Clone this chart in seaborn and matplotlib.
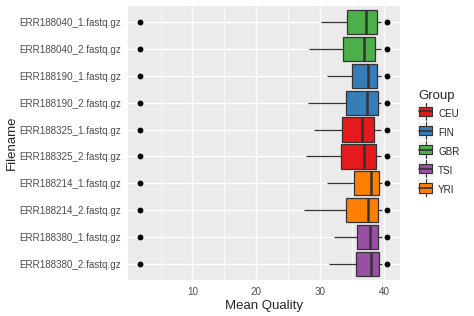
import matplotlib
matplotlib.use("Agg")
import matplotlib.pyplot as plt
import numpy as np
import seaborn as sns
import pandas as pd
from matplotlib.patches import Rectangle
from matplotlib.lines import Line2D
from matplotlib.legend_handler import HandlerBase

files = ["ERR188040_1.fastq.gz", "ERR188040_2.fastq.gz", "ERR188190_1.fastq.gz",
         "ERR188190_2.fastq.gz", "ERR188325_1.fastq.gz", "ERR188325_2.fastq.gz",
         "ERR188214_1.fastq.gz", "ERR188214_2.fastq.gz", "ERR188380_1.fastq.gz",
         "ERR188380_2.fastq.gz"]
groups = ["GBR", "GBR", "FIN", "FIN", "CEU", "CEU", "YRI", "YRI", "TSI", "TSI"]
whisker_low = [30.1, 28.3, 31.1, 28.1, 29.1, 27.7, 31.1, 27.5, 32.1, 31.4]
q1 = [34.2, 33.5, 35.0, 34.0, 33.4, 33.3, 35.3, 34.0, 35.7, 35.6]
median = [37.2, 36.8, 37.5, 37.3, 36.6, 36.9, 38.0, 37.5, 37.8, 37.9]
q3 = [38.9, 38.6, 38.9, 39.0, 38.4, 38.8, 39.2, 39.1, 39.1, 39.2]
whisker_high = [39.6, 39.6, 39.6, 39.6, 39.6, 39.6, 39.7, 39.7, 39.7, 39.7]
low_point = [1.8] * 10
high_point = [40.5] * 10

group_order = ["CEU", "FIN", "GBR", "TSI", "YRI"]
group_colors = ["#E41A1C", "#377EB8", "#4DAF4A", "#984EA3", "#FF7F00"]
palette = dict(zip(group_order, group_colors))

# long table: five stat values per file (q1/q3 doubled so the quartiles land exactly)
rows = []
for i, f in enumerate(files):
    for v in [whisker_low[i], q1[i], q1[i], median[i], q3[i], q3[i], whisker_high[i]]:
        rows.append({"Filename": f, "Group": groups[i], "Mean Quality": v})
df = pd.DataFrame(rows)
dots = pd.DataFrame({"Filename": files * 2, "Mean Quality": low_point + high_point})

sns.set_theme(style="darkgrid", rc={
    "axes.facecolor": "#EBEBEB", "grid.color": "white", "figure.facecolor": "white"})
plt.rcParams["font.family"] = ["Liberation Sans", "DejaVu Sans"]

fig = plt.figure(figsize=(4.74, 3.16), dpi=100)
ax = fig.add_axes([128 / 474, 1 - 280 / 316, 272 / 474, 274 / 316])

edge = "#333333"
sns.boxplot(data=df, x="Mean Quality", y="Filename", hue="Group", order=files,
            hue_order=group_order, palette=palette, dodge=False, width=0.9,
            whis=(0, 100), linecolor=edge, linewidth=0.9, saturation=1,
            medianprops={"linewidth": 1.8, "color": edge},
            whiskerprops={"color": edge}, capprops={"linewidth": 0},
            legend=False, ax=ax)
sns.stripplot(data=dots, x="Mean Quality", y="Filename", order=files, color="black",
              jitter=False, size=4.2, ax=ax)

ax.set_xlim(-0.1, 42.5)
ax.set_ylim(9.6, -0.6)
ax.set_xticks([10, 20, 30, 40])
ax.set_xticks([5, 15, 25, 35], minor=True)
ax.grid(which="major", color="white", linewidth=1.0)
ax.grid(which="minor", axis="x", color="white", linewidth=0.5)
ax.set_axisbelow(True)
for s in ax.spines.values():
    s.set_visible(False)
ax.tick_params(axis="both", which="major", length=3.5, width=0.8, color=edge,
               labelsize=7.1, labelcolor="#4D4D4D", pad=1.5)
ax.tick_params(axis="both", which="minor", length=0)
ax.set_xlabel("Mean Quality", fontsize=9.5, labelpad=2)
ax.set_ylabel("Filename", fontsize=9.5)
ax.yaxis.set_label_coords(-0.405, 0.5)

KEY_H = 12.2  # key height in points (~17 px)


class BoxKey(HandlerBase):
    def create_artists(self, legend, orig, xd, yd, w, h, fontsize, trans):
        cx = xd + w / 2
        cy = yd + h / 2
        y0, y1 = cy - KEY_H / 2, cy + KEY_H / 2
        bg = Rectangle((xd, y0), w, KEY_H, facecolor="#F2F2F2", edgecolor="none",
                       transform=trans)
        top = Line2D([cx, cx], [cy + KEY_H * 0.28, y1], color=edge, lw=0.8, transform=trans)
        bot = Line2D([cx, cx], [y0, cy - KEY_H * 0.28], color=edge, lw=0.8, transform=trans)
        box = Rectangle((xd + w * 0.08, cy - KEY_H * 0.28), w * 0.84, KEY_H * 0.56,
                        facecolor=orig.get_facecolor(), edgecolor=edge, lw=0.8,
                        transform=trans)
        mid = Line2D([xd + w * 0.08, xd + w * 0.92], [cy, cy], color=edge, lw=1.2,
                     transform=trans)
        return [bg, top, bot, box, mid]


handles = [Rectangle((0, 0), 1, 1, facecolor=c) for c in group_colors]
leg = fig.legend(handles, group_order, title="Group", loc="upper left",
                 bbox_to_anchor=(418 / 474, 1 - 90 / 316), frameon=False,
                 fontsize=7.1, title_fontsize=9.5, handlelength=1.55, handleheight=1.0,
                 handletextpad=0.5, labelspacing=0.92, borderaxespad=0, borderpad=0,
                 handler_map={Rectangle: BoxKey()})
leg._legend_box.align = "left"
leg._legend_box.sep = 5

fig.savefig("out.png", dpi=100)
